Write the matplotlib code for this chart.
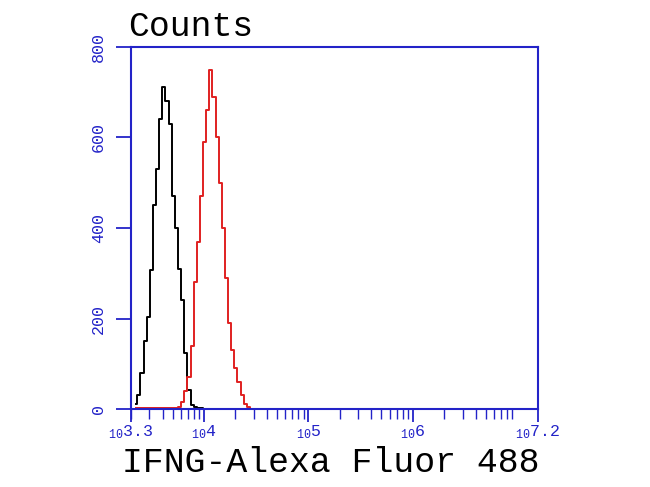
import numpy as np
import matplotlib
matplotlib.use("Agg")
import matplotlib.pyplot as plt
from matplotlib.ticker import FixedLocator, NullFormatter

# log10 channel centres of the histogram bins
channels = [3.345, 3.375, 3.405, 3.435, 3.465, 3.495, 3.525, 3.555, 3.585, 3.615,
            3.645, 3.675, 3.705, 3.735, 3.765, 3.795, 3.825, 3.855, 3.885, 3.915,
            3.945, 3.975, 4.005, 4.035, 4.065, 4.095, 4.125, 4.155, 4.185, 4.215,
            4.245, 4.275, 4.305, 4.335, 4.365, 4.395, 4.425, 4.455]

# isotype control (black)
control = [10, 30, 80, 150, 203, 307, 450, 530, 640, 712,
           680, 630, 470, 400, 310, 241, 124, 42, 8, 4,
           3, 2, 1, 0, 0, 0, 0, 0, 0, 0,
           0, 0, 0, 0, 0, 0, 0, 0]

# IFNG stained (red)
stained = [2, 2, 2, 2, 2, 2, 2, 2, 2, 2,
           2, 2, 3, 3, 4, 15, 40, 70, 140, 280,
           370, 470, 590, 660, 749, 690, 600, 500, 400, 290,
           190, 130, 90, 60, 30, 12, 4, 1]

yticks = [0, 200, 400, 600, 800]
xticks_log = [3.3, 4, 5, 6, 7.2]
xtick_labels = ["3.3", "4", "5", "6", "7.2"]

blue = "#2323c8"
mono = "Liberation Mono"

fig = plt.figure(figsize=(6.5, 4.87), dpi=100)
ax = fig.add_axes([131 / 650, 78 / 487, 407 / 650, 362 / 487])

x = 10 ** np.array(channels)
ax.step(x, control, where="mid", color="black", lw=1.4)
ax.step(x, stained, where="mid", color="#e02020", lw=1.4)

ax.set_xscale("log")
ax.set_xlim(10 ** 3.3, 10 ** 7.2)
ax.set_ylim(0, 800)

for s in ax.spines.values():
    s.set_color(blue)
    s.set_linewidth(1.5)

ax.xaxis.set_major_locator(FixedLocator([10 ** v for v in xticks_log]))
ax.set_xticklabels([r"$\mathregular{{}_{10}%s}$" % t for t in xtick_labels])
minor = []
for d in range(3, 7):
    for m in range(2, 10):
        v = m * 10 ** d
        if 10 ** 3.3 < v < 10 ** 7.2:
            minor.append(v)
ax.xaxis.set_minor_locator(FixedLocator(minor))
ax.xaxis.set_minor_formatter(NullFormatter())

ax.set_yticks(yticks)
ax.set_yticklabels([str(v) for v in yticks], rotation=90, va="center")

ax.tick_params(axis="x", which="major", direction="out", length=9, width=1.3,
               color=blue, labelcolor=blue, labelsize=12, pad=1)
ax.tick_params(axis="x", which="minor", direction="out", length=7, width=1.0, color=blue)
ax.tick_params(axis="y", direction="out", length=11, width=1.3,
               color=blue, labelcolor=blue, labelsize=12, pad=7)
for lab in ax.get_xticklabels() + ax.get_yticklabels():
    lab.set_fontfamily(mono)

fig.text(128 / 650, 1 - 27 / 487, "Counts", fontsize=25, family=mono,
         va="center", ha="left")
fig.text(331 / 650, 1 - 463 / 487, "IFNG-Alexa Fluor 488", fontsize=25, family=mono,
         va="center", ha="center")

fig.savefig("out.png", dpi=100)
